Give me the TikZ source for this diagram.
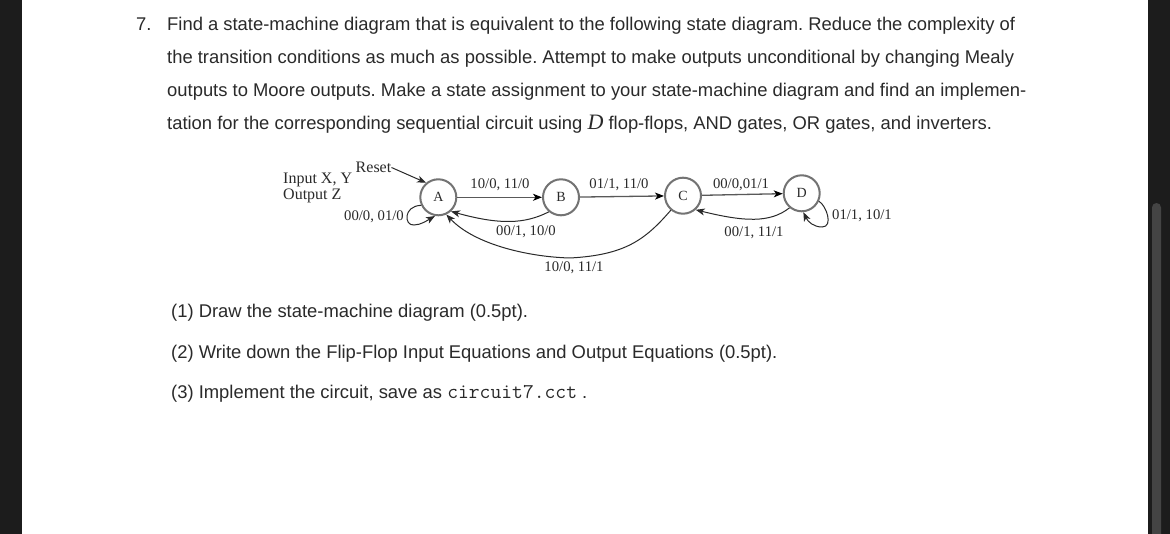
\documentclass[tikz,border=0pt]{standalone}
\usepackage{fontspec}
\setmainfont{Liberation Sans}
\newfontfamily\diagfont{Liberation Serif}
\usetikzlibrary{arrows.meta}
\definecolor{frame}{HTML}{1C1C1C}
\definecolor{thumb}{HTML}{444444}
\definecolor{ink}{HTML}{2A2A2A}
\tikzset{
  body/.style={anchor=base west,inner sep=0pt,text=ink,font=\fontsize{18.4}{22}\selectfont},
  lab/.style={inner sep=0pt,text=ink,font=\diagfont\fontsize{14.7}{16}\selectfont},
  biglab/.style={inner sep=0pt,text=ink,font=\diagfont\fontsize{16}{18}\selectfont},
  leftlab/.style={biglab,anchor=west},
  state/.style={circle,draw=black!55,line width=2pt,minimum size=36pt,inner sep=0pt,text=ink,font=\diagfont\fontsize{14}{15}\selectfont},
  arc/.style={draw=ink,line width=1pt,-{Stealth[length=9pt,width=7pt,inset=2.5pt]}},
  straightarc/.style={draw=black!65,line width=1.3pt,-{Stealth[length=9pt,width=7pt,inset=2.5pt,black]}},
}
\frenchspacing
\begin{document}
\begin{tikzpicture}[x=1pt,y=-1pt]
\useasboundingbox (0,0) rectangle (1170,534);
\fill[frame] (0,0) rectangle (1170,534);
\fill[white] (22,0) rectangle (1148,534);
\fill[thumb,rounded corners=4.5pt] (1152,203) rectangle (1161,545);
% text
\node[body] (n7) at (136,31) {7.};
\node[body] (l1) at (167,31) {Find a state-machine diagram that is equivalent to the following state diagram. Reduce the complexity of};
\node[body] (l2) at (167,64) {the transition conditions as much as possible. Attempt to make outputs unconditional by changing Mealy};
\node[body] (l3) at (167,97) {outputs to Moore outputs. Make a state assignment to your state-machine diagram and find an implemen-};
\node[body] (l4) at (167,130) {tation for the corresponding sequential circuit using {\diagfont\itshape\fontsize{22}{22}\selectfont D} flop-flops, AND gates, OR gates, and inverters.};
\node[body] (q1) at (171,318) {(1) Draw the state-machine diagram (0.5pt).};
\node[body] (q2) at (171,359) {(2) Write down the Flip-Flop Input Equations and Output Equations (0.5pt).};
\node[body] (q3) at (171,399) {(3) Implement the circuit, save as {\ttfamily\fontsize{21}{22}\selectfont circuit7.cct} .};
% states
\node[state] (A) at (438.3,197.3) {A};
\node[state] (B) at (561,197.3) {B};
\node[state] (C) at (683,195.7) {C};
\node[state] (D) at (801.7,193.3) {D};
% labels
\node[biglab] (reset) at (373.5,167.5) {Reset};
\node[leftlab] (inp) at (283,179.5) {Input X, Y};
\node[leftlab] (outp) at (283,195.5) {Output Z};
\node[lab] (ab) at (500,185) {10/0, 11/0};
\node[lab] (bc) at (619,185) {01/1, 11/0};
\node[lab] (cd) at (741,185) {00/0,01/1};
\node[lab] (aa) at (374,216.5) {00/0, 01/0};
\node[lab] (ba) at (526,232) {00/1, 10/0};
\node[lab] (dc) at (754,233) {00/1, 11/1};
\node[lab] (dd) at (862,215.5) {01/1, 10/1};
\node[lab] (ca) at (574,268) {10/0, 11/1};
% connectors
\draw[arc] (reset.east) -- (A.130);
\draw[straightarc] (A) -- (B);
\draw[straightarc] (B) -- (C);
\draw[straightarc] (C) -- (D);
\draw[arc] (A.205) .. controls (403,206) and (404,226) .. (414,225) .. controls (421,225) and (428,220) .. (A.-100);
\draw[arc] (B.-130) .. controls (525,224) and (500,225) .. (A.-48);
\draw[arc] (C.-130) .. controls (645,240) and (625,255) .. (570,258) .. controls (530,257) and (475,245) .. (A.-65);
\draw[arc] (D.-130) .. controls (770,223) and (745,222) .. (C.-48);
\draw[arc] (D.-25) .. controls (826,205) and (834,227) .. (822,227) .. controls (814,227) and (808,222) .. (D.-85);
\end{tikzpicture}
\end{document}
